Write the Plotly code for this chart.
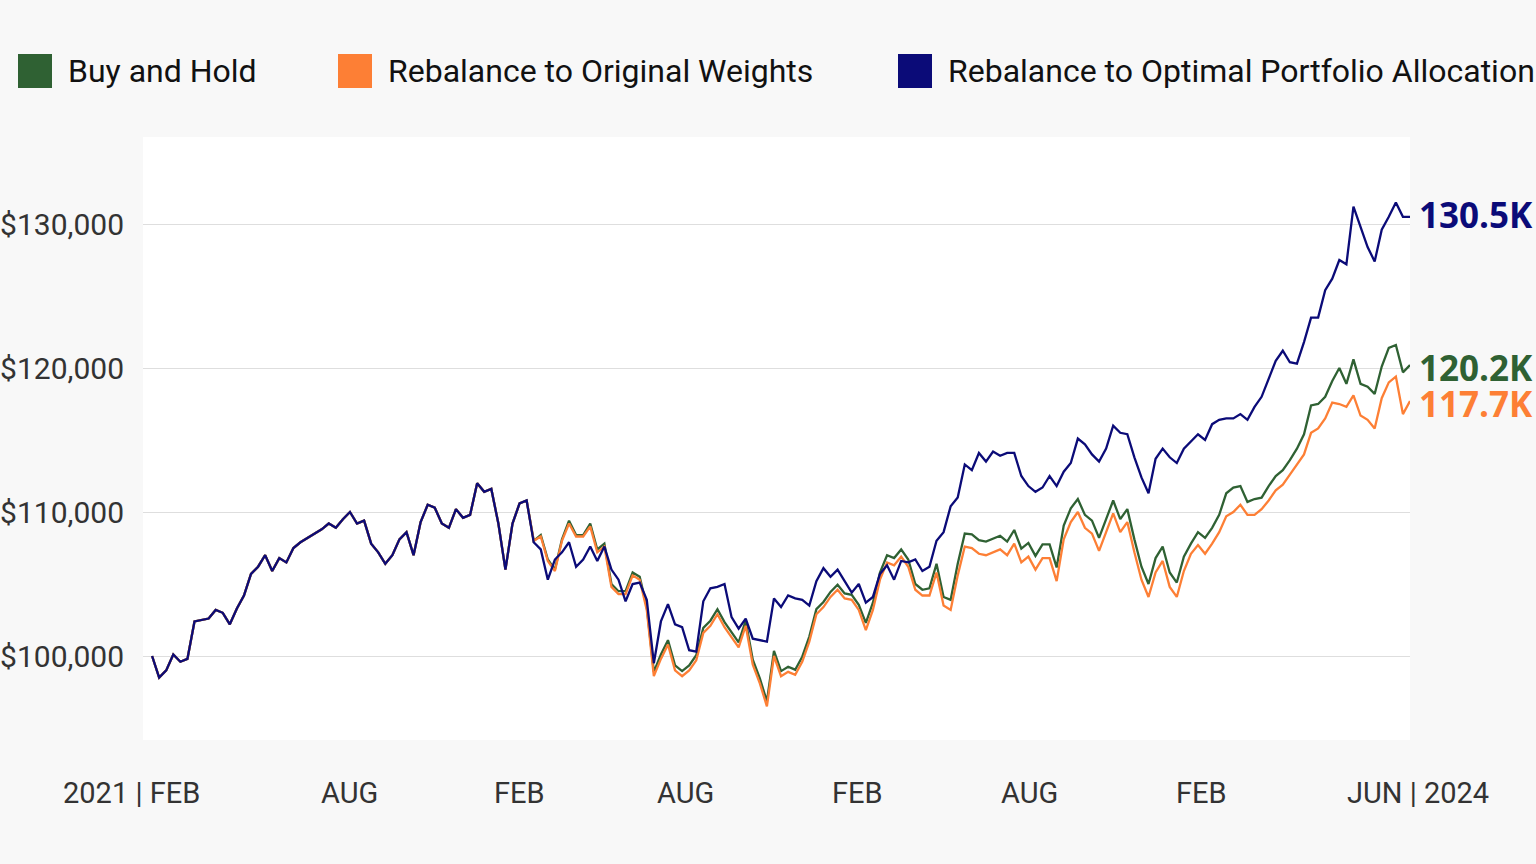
import pandas as pd
import plotly.graph_objects as go

# ---------------- data (values in $ thousands, weekly) ----------------
start_date = "2021-02-01"
n_weeks = 179

# all three portfolios share the same path until early 2022
shared_path = [
    100.0, 98.5, 99.0, 100.1, 99.6, 99.8, 102.4, 102.5, 102.6, 103.2,
    103.0, 102.2, 103.3, 104.2, 105.7, 106.2, 107.0, 105.9, 106.8, 106.5,
    107.5, 107.9, 108.2, 108.5, 108.8, 109.2, 108.9, 109.5, 110.0, 109.2,
    109.4, 107.8, 107.2, 106.4, 107.0, 108.1, 108.6, 107.0, 109.3, 110.5,
    110.3, 109.2, 108.9, 110.2, 109.6, 109.8, 112.0, 111.4, 111.6, 109.2,
    106.0, 109.2, 110.6, 110.8,
]

optimal_tail = [
    107.9, 107.4, 105.3, 106.7, 107.2, 107.9,
    106.2, 106.7, 107.6, 106.6, 107.6, 106.0, 105.3, 103.8, 105.0, 105.1,
    103.9, 99.5, 102.4, 103.6, 102.2, 102.0, 100.4, 100.3, 103.8, 104.7,
    104.8, 105.0, 102.7, 101.9, 102.6, 101.2, 101.1, 101.0, 104.0, 103.4,
    104.2, 104.0, 103.9, 103.5, 105.2, 106.1, 105.5, 106.0, 105.2, 104.4,
    105.0, 103.7, 104.1, 105.7, 106.3, 105.3, 106.6, 106.5, 106.7, 105.9,
    106.2, 108.0, 108.6, 110.4, 111.0, 113.3, 112.9, 114.1, 113.5, 114.2,
    113.9, 114.1, 114.1, 112.5, 111.8, 111.4, 111.7, 112.5, 111.8, 112.8,
    113.4, 115.1, 114.7, 114.0, 113.5, 114.4, 116.0, 115.5, 115.4, 113.8,
    112.4, 111.3, 113.7, 114.4, 113.8, 113.4, 114.4, 114.9, 115.4, 115.0,
    116.1, 116.4, 116.5, 116.5, 116.8, 116.4, 117.3, 118.0, 119.3, 120.5,
    121.2, 120.4, 120.3, 121.8, 123.5, 123.5, 125.4, 126.2, 127.5, 127.2,
    131.2, 129.8, 128.4, 127.4, 129.6, 130.5, 131.5, 130.5, 130.5,
]

original_tail = [
    108.0, 108.3, 106.6, 105.9, 108.0, 109.2,
    108.3, 108.3, 109.0, 107.2, 107.6, 104.8, 104.3, 104.3, 105.6, 105.3,
    103.2, 98.6, 99.8, 100.8, 99.0, 98.6, 99.0, 99.7, 101.6, 102.1,
    102.9, 102.0, 101.3, 100.6, 102.1, 99.4, 98.1, 96.5, 100.0, 98.6,
    98.9, 98.7, 99.6, 101.0, 102.9, 103.4, 104.1, 104.6, 104.0, 103.9,
    103.2, 101.8, 103.2, 105.3, 106.5, 106.3, 106.9, 106.2, 104.6, 104.2,
    104.2, 105.8, 103.5, 103.2, 105.6, 107.6, 107.5, 107.1, 107.0, 107.2,
    107.4, 107.0, 107.8, 106.5, 106.9, 106.0, 106.8, 106.8, 105.2, 108.1,
    109.3, 110.0, 108.9, 108.5, 107.3, 108.6, 109.9, 108.6, 109.3, 107.2,
    105.3, 104.1, 105.8, 106.6, 104.8, 104.1, 105.9, 107.1, 107.7, 107.1,
    107.8, 108.6, 109.7, 110.0, 110.5, 109.8, 109.8, 110.2, 110.8, 111.5,
    111.9, 112.6, 113.3, 114.0, 115.5, 115.8, 116.5, 117.6, 117.5, 117.3,
    118.1, 116.7, 116.4, 115.8, 117.9, 119.0, 119.4, 116.8, 117.7,
]

buyhold_tail = [
    108.0, 108.4, 106.7, 106.0, 108.1, 109.4,
    108.4, 108.4, 109.2, 107.4, 107.8, 105.0, 104.5, 104.5, 105.8, 105.5,
    103.4, 98.9, 100.1, 101.1, 99.35, 98.95, 99.35, 100.05, 101.95, 102.45,
    103.25, 102.35, 101.65, 100.95, 102.45, 99.75, 98.45, 96.85, 100.35, 98.95,
    99.25, 99.05, 99.95, 101.35, 103.25, 103.75, 104.45, 104.95, 104.35, 104.25,
    103.55, 102.3, 103.7, 105.8, 107.0, 106.8, 107.4, 106.7, 105.0, 104.6,
    104.7, 106.4, 104.1, 103.9, 106.4, 108.5, 108.45, 108.05, 107.95, 108.15,
    108.35, 107.95, 108.75, 107.45, 107.85, 106.95, 107.75, 107.75, 106.15, 109.05,
    110.25, 110.9, 109.8, 109.4, 108.2, 109.5, 110.8, 109.5, 110.2, 108.1,
    106.2, 105.0, 106.8, 107.6, 105.8, 105.1, 106.9, 107.8, 108.6, 108.2,
    108.9, 109.8, 111.3, 111.7, 111.8, 110.7, 110.9, 111.0, 111.8, 112.5,
    112.9, 113.6, 114.4, 115.4, 117.4, 117.5, 118.0, 119.1, 120.0, 118.9,
    120.6, 118.9, 118.7, 118.2, 120.1, 121.4, 121.6, 119.7, 120.2,
]

series_names = [
    "Buy and Hold",
    "Rebalance to Original Weights",
    "Rebalance to Optimal Portfolio Allocation",
]
end_labels = ["120.2K", "117.7K", "130.5K"]

y_tick_values = [100, 110, 120, 130]
y_tick_labels = ["$100,000", "$110,000", "$120,000", "$130,000"]

x_label_texts = ["2021 | FEB", "AUG", "FEB", "AUG", "FEB", "AUG", "FEB", "JUN | 2024"]
x_label_dates = ["2021-01-12", "2021-08-16", "2022-01-31", "2022-07-14",
                 "2023-01-01", "2023-06-20", "2023-12-07", "2024-07-09"]

# ---------------- assemble ----------------
dates = pd.date_range(start_date, periods=n_weeks, freq="7D")
buy_hold = shared_path + buyhold_tail
original = shared_path + original_tail
optimal = shared_path + optimal_tail
series = [buy_hold, original, optimal]

colors = ["#2f6133", "#fd7f35", "#0b0b78"]
W, H = 1536, 864
L, R, T, B = 143, 126, 137, 124
PW, PH = W - L - R, H - T - B

x_range = [pd.Timestamp("2021-01-23"), dates[-1]]


def date_to_paper(d):
    d = pd.Timestamp(d)
    return (d - x_range[0]) / (x_range[1] - x_range[0])


def px_x(px):
    return (px - L) / PW


def px_y(py):
    return (H - B - py) / PH


fig = go.Figure()
for vals, name, col in zip(series, series_names, colors):
    fig.add_trace(go.Scatter(
        x=dates, y=vals, mode="lines", name=name,
        line=dict(color=col, width=2.3), showlegend=False,
    ))

annotations = []
shapes = []

# end-of-line value labels
for vals, txt, col, ys in zip(series, end_labels, colors, [-2, -2, 2]):
    annotations.append(dict(
        x=dates[-1], y=vals[-1], xref="x", yref="y", text=txt,
        showarrow=False, xanchor="left", yanchor="middle", xshift=7, yshift=ys,
        font=dict(family="Open Sans", size=35, color=col, weight="bold"),
    ))

# x-axis labels (placed on the date scale)
for d, txt in zip(x_label_dates, x_label_texts):
    annotations.append(dict(
        x=date_to_paper(d), y=px_y(793), xref="paper", yref="paper", text=txt,
        showarrow=False, xanchor="center", yanchor="middle",
        font=dict(family="Roboto", size=29, color="#333333"),
    ))

# custom legend
legend_sq_x = [18, 338, 898]
legend_txt_x = [66, 386, 946]
for sx, tx, name, col in zip(legend_sq_x, legend_txt_x, series_names, colors):
    shapes.append(dict(
        type="rect", xref="paper", yref="paper",
        x0=px_x(sx), x1=px_x(sx + 34), y0=px_y(88), y1=px_y(54),
        fillcolor=col, line=dict(width=0),
    ))
    annotations.append(dict(
        x=px_x(tx), y=px_y(71), xref="paper", yref="paper", text=name,
        showarrow=False, xanchor="left", yanchor="middle",
        font=dict(family="Roboto", size=32, color="#111111"),
    ))

fig.update_layout(
    width=W, height=H,
    margin=dict(l=L, r=R, t=T, b=B, pad=0, autoexpand=False),
    paper_bgcolor="#f8f8f8",
    plot_bgcolor="#ffffff",
    showlegend=False,
    annotations=annotations,
    shapes=shapes,
    xaxis=dict(
        type="date",
        range=x_range,
        showgrid=False, showticklabels=False, zeroline=False, showline=False,
        ticks="", automargin=False,
    ),
    yaxis=dict(
        range=[94.1667, 136.042],
        tickvals=y_tick_values, ticktext=y_tick_labels,
        showgrid=True, gridcolor="#dedede", gridwidth=1,
        zeroline=False, showline=False, ticks="",
        tickfont=dict(family="Roboto", size=30, color="#333333"),
        ticklabelstandoff=18, automargin=False,
    ),
)

fig.write_html("out.html")
